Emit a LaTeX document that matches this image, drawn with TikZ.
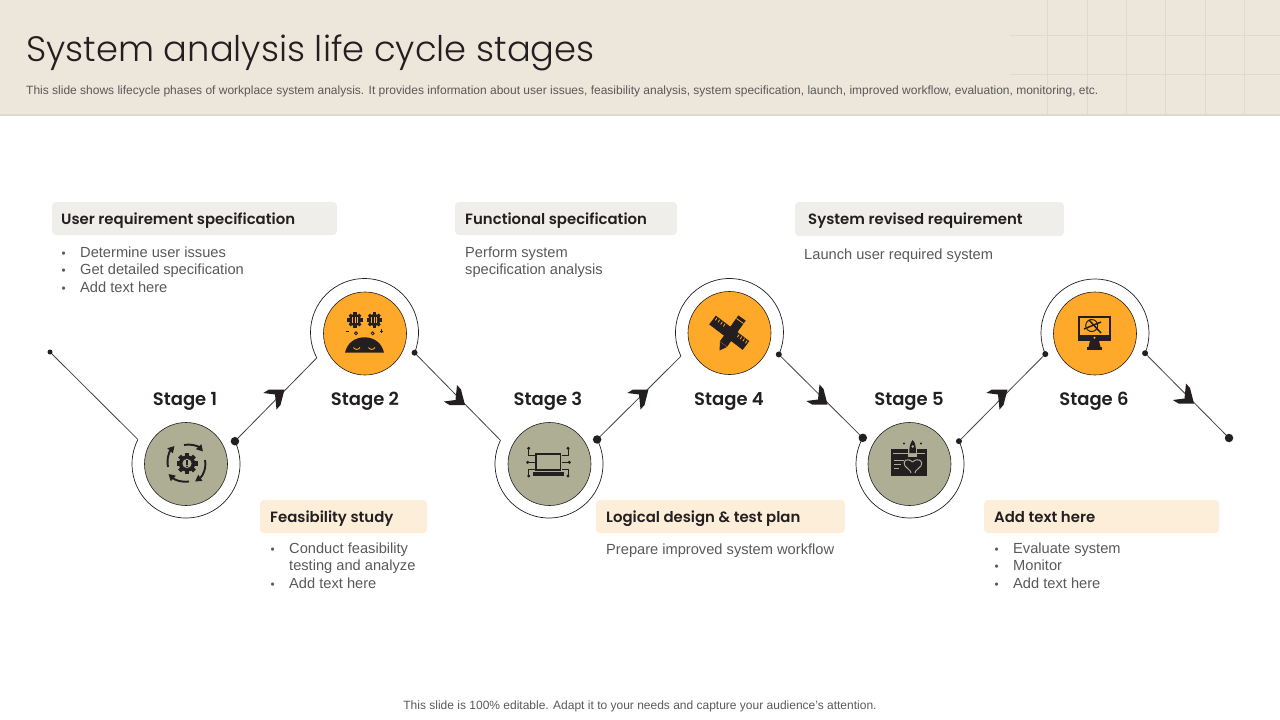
\documentclass[tikz,border=0pt]{standalone}
\usepackage{fontspec}
\setmainfont{Liberation Sans}
\newfontfamily\gothic[UprightFont=* Light,BoldFont=* SemiBold]{Poppins}
\usetikzlibrary{calc,arrows.meta}
\definecolor{hdr}{HTML}{EDE6DB}
\definecolor{grid}{HTML}{E0D9CE}
\definecolor{ink}{HTML}{231F20}
\definecolor{olive}{HTML}{ADAE94}
\definecolor{amber}{HTML}{FFA92B}
\definecolor{greybox}{HTML}{EFEEEA}
\definecolor{peach}{HTML}{FDEEDA}
\definecolor{body}{HTML}{595959}
\tikzset{
  ring/.style={circle,minimum size=108pt,inner sep=0pt,outer sep=0pt},
  disc/.style={circle,minimum size=83pt,inner sep=0pt,draw=ink,line width=.6pt},
  arcline/.style={draw=ink,line width=.7pt},
  link/.style={draw=ink!85,line width=.8pt},
  dotb/.style={circle,fill=ink,minimum size=8.5pt,inner sep=0pt,outer sep=0pt},
  dots/.style={circle,fill=ink,minimum size=6pt,inner sep=0pt,outer sep=0pt},
  tag/.style={rounded corners=4pt,draw=none},
  head/.style={anchor=base west,inner sep=0pt,font=\gothic\bfseries\fontsize{14.9}{18}\selectfont,text=ink},
  stagelbl/.style={anchor=base,inner sep=0pt,font=\gothic\bfseries\fontsize{18}{20}\selectfont,text=ink},
  para/.style={anchor=north west,inner sep=0pt,align=left,text=body,font=\fontsize{14.65}{17.5}\selectfont},
}
\newcommand{\chevup}[2]{\fill[ink,shift={(#1,#2)}] (0,0) -- (-15.5,0) -- (-21.2,3.5) -- (-9.5,5) -- (-8,20) -- (-4,15.5) -- cycle;}
\newcommand{\chevdn}[2]{\fill[ink,shift={(#1,#2)}] (0,0) -- (-15.5,0) -- (-21.2,-3.5) -- (-9.5,-5) -- (-8,-20) -- (-4,-15.5) -- cycle;}
\newcommand{\gearat}[3]{%x y r
  \fill[ink] (#1,#2) circle[radius=#3*0.78pt];
  \foreach \a in {0,45,...,315}{\draw[ink,line width=#3*0.4pt] ($(#1,#2)+(\a:#3*0.7pt)$) -- ($(#1,#2)+(\a:#3*1pt)$);}
}
\newcommand{\bl}{\makebox[19pt][l]{\hspace{.5pt}\scalebox{.8}{•}}}
\newcommand{\nb}{\makebox[19pt][l]{}}
\begin{document}
\begin{tikzpicture}[x=1pt,y=-1pt]
\useasboundingbox (0,0) rectangle (1280,720);
% header
\fill[hdr] (0,0) rectangle (1280,115);
\foreach \x in {1047,1087,1126,1165,1205,1244}{\draw[grid,line width=.7pt] (\x,0) -- (\x,115);}
\foreach \y in {35,74}{\draw[grid,line width=.7pt] (1010,\y) -- (1280,\y);}
\draw[grid,line width=1.2pt] (0,115) -- (1280,115);
\node[anchor=base west,inner sep=0pt,text=ink,font=\gothic\fontsize{35.3}{40}\selectfont] (title) at (26,61) {System analysis life cycle stages};
\node[anchor=base west,inner sep=0pt,text=body,font=\fontsize{12}{14}\selectfont] (sub) at (26,94.5) {This slide shows lifecycle phases of workplace system analysis. It provides information about user issues, feasibility analysis, system specification, launch, improved workflow, evaluation, monitoring, etc.};
\node[anchor=base,inner sep=0pt,text=body,font=\fontsize{12}{14}\selectfont] (foot) at (640,709.5) {This slide is 100\% editable. Adapt it to your needs and capture your audience's attention.};
% rings and discs
\node[ring] (r1) at (186,464) {};
\node[ring] (r2) at (364.5,332.5) {};
\node[ring] (r3) at (549,464) {};
\node[ring] (r4) at (729.5,332.5) {};
\node[ring] (r5) at (910,464) {};
\node[ring] (r6) at (1095,333) {};
\node[disc,fill=olive] (c1) at (186,464) {};
\node[disc,fill=amber] (c2) at (365,333.5) {};
\node[disc,fill=olive] (c3) at (549.5,464) {};
\node[disc,fill=amber] (c4) at (729.5,333) {};
\node[disc,fill=olive] (c5) at (909.5,464) {};
\node[disc,fill=amber] (c6) at (1095,333.5) {};
\draw[arcline] (r1.153) arc[start angle=153,end angle=385,radius=54pt];
\draw[arcline] (r2.208) arc[start angle=208,end angle=-22,radius=54pt];
\draw[arcline] (r3.154) arc[start angle=154,end angle=387,radius=54pt];
\draw[arcline] (r4.206) arc[start angle=206,end angle=-24,radius=54pt];
\draw[arcline] (r5.151) arc[start angle=151,end angle=385,radius=54pt];
\draw[arcline] (r6.203) arc[start angle=203,end angle=-22,radius=54pt];
% dots
\node[dots,minimum size=5pt] (p0) at (50,352) {};
\node[dotb] (p1) at (r1.25) {};
\node[dots] (p2) at (r2.-22) {};
\node[dotb] (p3) at (r3.27) {};
\node[dots] (p4) at (r4.-24) {};
\node[dotb] (p5) at (r5.151) {};
\node[dots] (p6) at (r5.25) {};
\node[dots] (p7) at (r6.203) {};
\node[dots] (p8) at (r6.-22) {};
\node[dotb] (p9) at (1229,438) {};
% connectors
\draw[link] (p0) -- (r1.153);
\draw[link] (p1) -- (r2.208);
\draw[link] (p2) -- (r3.154);
\draw[link] (p3) -- (r4.206);
\draw[link] (p4) -- (p5);
\draw[link] (p6) -- (p7);
\draw[link] (p8) -- (p9);
\chevup{284.5}{389.5}
\chevdn{465}{405}
\chevup{648.5}{389.5}
\chevdn{827.5}{404.5}
\chevup{1007.5}{389.5}
\chevdn{1194}{403.5}
% stage labels
\node[stagelbl] (s1) at (185,405.5) {Stage 1};
\node[stagelbl] (s2) at (365,405.5) {Stage 2};
\node[stagelbl] (s3) at (548,405.5) {Stage 3};
\node[stagelbl] (s4) at (729,405.5) {Stage 4};
\node[stagelbl] (s5) at (909,405.5) {Stage 5};
\node[stagelbl] (s6) at (1094,405.5) {Stage 6};
% tags
\fill[tag,greybox] (52,202) rectangle (337,235);
\fill[tag,greybox] (455,202) rectangle (677,235);
\fill[tag,greybox] (795,202) rectangle (1064,236);
\fill[tag,peach] (260,500) rectangle (427,533);
\fill[tag,peach] (596,500) rectangle (845,533);
\fill[tag,peach] (984,500) rectangle (1219,533);
\node[head] (h1) at (61,224.5) {User requirement specification};
\node[head] (h2) at (465,224.5) {Functional specification};
\node[head] (h3) at (808,224.5) {System revised requirement};
\node[head] (h4) at (270,522.5) {Feasibility study};
\node[head] (h5) at (606,522.5) {Logical design \& test plan};
\node[head] (h6) at (994,522.5) {Add text here};
\node[para] (t1) at (61,246.5) {\bl Determine user issues\\\bl Get detailed specification\\\bl Add text here};
\node[para] (t2) at (465,246.5) {Perform system\\specification analysis};
\node[para] (t3) at (804,248.5) {Launch user required system};
\node[para] (t4) at (270,542.5) {\bl Conduct feasibility\\\nb testing and analyze\\\bl Add text here};
\node[para] (t5) at (606,543.5) {Prepare improved system workflow};
\node[para] (t6) at (994,542.5) {\bl Evaluate system\\\bl Monitor\\\bl Add text here};
% icon 1: gear and cycle arrows
\gearat{187}{463.5}{10.5}
\fill[olive] (187,463.5) circle[radius=4.6pt];
\fill[ink] (186.2,459.5) rectangle (187.8,464.5);
\fill[ink] (187,466.3) circle[radius=1pt];
\begin{scope}[line width=1.9pt,draw=ink]
\draw[-{Triangle[length=6.5pt,width=7pt]}] (184,445) .. controls (190,443.5) and (198,446) .. (203,451.5);
\draw[-{Triangle[length=6.5pt,width=7pt]}] (168,467) .. controls (166.5,459) and (169,452) .. (174.5,446);
\draw[-{Triangle[length=6.5pt,width=7pt]}] (189,481.5) .. controls (181,482.5) and (175,480) .. (168.5,474);
\draw[-{Triangle[length=6.5pt,width=7pt]}] (205,460) .. controls (206.5,468) and (203,476) .. (195,481.5);
\end{scope}
% icon 2: head with two charts
\gearat{355}{320}{7.6}
\gearat{374.3}{320}{7.6}
\foreach \x in {352.5,355,357.5,371.8,374.3,376.8}{\draw[amber,line width=.7pt] (\x,317) -- (\x,323);}
\fill[ink] (345,352.7) .. controls (347,343) and (355,337.3) .. (364.5,337.3) .. controls (374,337.3) and (382,343) .. (384,352.7) -- cycle;
\draw[amber,line width=.9pt] (353.5,347.5) .. controls (355,350) and (358.5,350) .. (360,347.5);
\draw[amber,line width=.9pt] (368.5,347.5) .. controls (370,350) and (373.5,350) .. (375,347.5);
\draw[ink,line width=.8pt] (356,333.3) circle[radius=1.5pt];
\draw[ink,line width=.8pt] (372.7,333.3) circle[radius=1.5pt];
\draw[ink,line width=.9pt] (345.5,331) -- (349,331);
\draw[ink,line width=.9pt] (380,331) -- (383.4,331) (381.7,329.3) -- (381.7,332.7);
% icon 3: laptop with circuit
\draw[ink,line width=1.2pt,fill=olive] (536,454) rectangle (560.7,470);
\fill[ink] (533,472) rectangle (564,475.5);
\begin{scope}[draw=ink,line width=.9pt,fill=ink]
\draw (528.7,448.3) -- (528.7,455) -- (534.5,455);
\draw (568,448.3) -- (568,455) -- (562,455);
\draw (527.7,462.3) -- (534.5,462.3);
\draw (569.3,462.3) -- (562,462.3);
\draw (528.7,476) -- (528.7,469) -- (534.5,469);
\draw (568,476) -- (568,469) -- (562,469);
\foreach \x/\y in {528.7/448.3,568/448.3,527.7/462.3,569.3/462.3,528.7/476,568/476}{\fill (\x,\y) circle[radius=1.7pt];}
\end{scope}
% icon 4: ruler and pencil
\draw[ink,line width=11pt] (712.5,320) -- (746,345.5);
\foreach \t in {0.06,0.14,0.22,0.30,0.72,0.80,0.88,0.96}{\draw[amber,line width=.8pt] ($(712.5,320)!\t!(746,345.5)+(2.5,-3.8)$) -- ($(712.5,320)!\t!(746,345.5)+(0.8,-1.2)$);}
\draw[ink,line width=9pt] (742,318) -- (723.5,344);
\fill[ink] (727,347) -- (719.5,350.5) -- (720,342) -- cycle;
\draw[amber,line width=.8pt] (736.5,318.5) -- (743.5,323.5);
% icon 5: board with rocket
\fill[ink] (891.3,449.3) rectangle (926.7,475.7);
\draw[olive,line width=.8pt] (893,453) -- (925,453);
\draw[olive,line width=1pt] (894,460) -- (904,460) (894,464) -- (901,464) (894,468) -- (899,468);
\draw[olive,line width=1pt] (912.5,462) .. controls (907,457) and (902,461) .. (905,466) .. controls (907,469) and (911,470) .. (911,473);
\draw[olive,line width=1pt] (912.5,462) .. controls (918,457) and (924,461) .. (921,466) .. controls (919,469) and (915,470) .. (915,473);
\fill[olive] (908,449) rectangle (917,457);
\fill[ink] (912.7,440) .. controls (915.5,443) and (916,447) .. (916,453) -- (909.3,453) .. controls (909.3,447) and (910,443) .. (912.7,440) -- cycle;
\fill[olive] (912.7,446.5) circle[radius=1.4pt];
\fill[ink] (904,443.5) circle[radius=1.2pt];
\fill[ink] (921,443.5) circle[radius=1.2pt];
% icon 6: monitor with tools
\fill[ink] (1078.3,316) rectangle (1111,340.7);
\fill[amber] (1080,318.3) rectangle (1109,335);
\fill[ink] (1090,340.7) -- (1099,340.7) -- (1100.5,347) -- (1088.5,347) -- cycle;
\fill[ink] (1087.3,347) rectangle (1101.5,349.5);
\fill[amber] (1094.5,337.8) circle[radius=1.1pt];
\draw[ink,line width=1pt] (1091.7,325.5) circle[radius=6pt];
\draw[ink,line width=1.5pt] (1084,329) -- (1101,322);
\draw[ink,line width=1.5pt] (1089,320) -- (1101,333);
\end{tikzpicture}
\end{document}
